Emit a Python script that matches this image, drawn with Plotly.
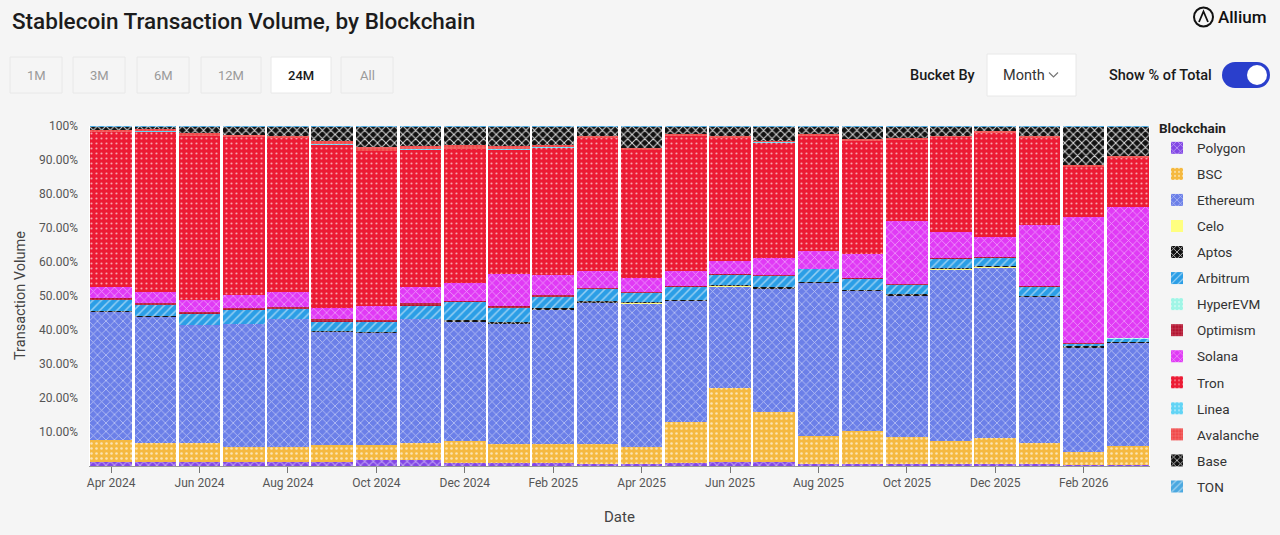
import plotly.graph_objects as go

months = ["Apr 2024", "May 2024", "Jun 2024", "Jul 2024", "Aug 2024", "Sep 2024",
          "Oct 2024", "Nov 2024", "Dec 2024", "Jan 2025", "Feb 2025", "Mar 2025",
          "Apr 2025", "May 2025", "Jun 2025", "Jul 2025", "Aug 2025", "Sep 2025",
          "Oct 2025", "Nov 2025", "Dec 2025", "Jan 2026", "Feb 2026", "Mar 2026"]

polygon   = [1.3, 1.3, 1.3, 1.3, 1.3, 1.3, 1.8, 1.8, 0.8, 0.8, 0.8, 0.5,
             0.5, 0.8, 1.1, 1.3, 0.5, 0.5, 0.5, 0.5, 0.5, 0.5, 0.3, 0.3]
bsc       = [6.3, 5.4, 5.4, 4.4, 4.4, 4.9, 4.4, 4.9, 6.6, 5.6, 5.6, 5.9,
             5.2, 12.1, 21.8, 14.5, 8.4, 9.8, 8.1, 6.9, 7.8, 6.2, 3.7, 5.7]
ethereum  = [37.8, 37.2, 34.8, 36.1, 37.5, 33.3, 33.1, 36.5, 35.2, 35.6, 39.7, 41.7,
             42.2, 35.6, 30.0, 36.5, 45.0, 41.2, 41.5, 50.5, 50.2, 43.1, 30.9, 30.2]
celo      = [0.02] * 24
aptos     = [0.03, 0.03, 0.03, 0.03, 0.03, 0.03, 0.03, 0.03, 0.3, 0.3, 0.3, 0.3,
             0.3, 0.3, 0.3, 0.3, 0.3, 0.3, 0.4, 0.3, 0.3, 0.3, 0.3, 0.3]
arbitrum  = [3.3, 3.4, 3.1, 4.2, 3.1, 2.8, 2.9, 3.8, 5.4, 4.4, 3.4, 3.9,
             2.9, 3.9, 3.0, 3.3, 3.7, 3.4, 2.9, 2.9, 2.5, 2.6, 0.9, 1.1]
hyperevm  = [0.0, 0.0, 0.0, 0.0, 0.0, 0.0, 0.0, 0.0, 0.0, 0.0, 0.0, 0.0,
             0.0, 0.0, 0.02, 0.02, 0.02, 0.02, 0.02, 0.02, 0.02, 0.02, 0.02, 0.02]
optimism  = [0.6, 0.6, 0.7, 0.5, 0.5, 0.7, 0.6, 0.8, 0.3, 0.3, 0.5, 0.1,
             0.1, 0.1, 0.1, 0.1, 0.1, 0.1, 0.1, 0.1, 0.1, 0.1, 0.1, 0.1]
solana    = [3.3, 3.3, 3.4, 3.7, 4.2, 3.5, 4.2, 4.7, 5.1, 9.4, 5.9, 5.0,
             4.0, 4.6, 4.0, 5.1, 5.2, 7.0, 18.6, 7.5, 6.0, 17.9, 37.1, 38.3]
tron      = [45.5, 47.0, 48.3, 46.6, 45.5, 48.0, 45.5, 40.5, 39.5, 36.7, 37.5, 39.2,
             37.7, 39.7, 36.3, 34.1, 33.9, 33.3, 23.8, 28.1, 30.5, 25.9, 14.7, 14.7]
linea     = [0.02] * 24
avalanche = [0.6, 0.8, 0.8, 0.5, 0.5, 0.8, 1.0, 1.0, 1.0, 1.0, 0.7, 0.5,
             0.5, 0.4, 0.5, 0.4, 0.4, 0.6, 0.5, 0.3, 0.4, 0.4, 0.3, 0.3]
base      = [0.9, 0.6, 1.8, 2.3, 2.6, 4.3, 6.1, 5.6, 5.5, 5.6, 5.3, 2.6,
             6.3, 2.2, 2.6, 4.1, 2.2, 3.5, 3.3, 2.6, 1.4, 2.7, 11.4, 8.7]
ton       = [0.2] * 24

y_tick_vals = [10, 20, 30, 40, 50, 60, 70, 80, 90, 100]
y_tick_text = ["10.00%", "20.00%", "30.00%", "40.00%", "50.00%",
               "60.00%", "70.00%", "80.00%", "90.00%", "100%"]

series = [
    ("Polygon", polygon, "#8247e5", "x", 6, 0.3, 0.5),
    ("BSC", bsc, "#f5b940", ".", 5, 0.2, 0.6),
    ("Ethereum", ethereum, "#6b7fe8", "x", 6, 0.25, 0.55),
    ("Celo", celo, "#ffff80", "", 6, 0.3, 0.5),
    ("Aptos", aptos, "#111111", "x", 6, 0.3, 0.85),
    ("Arbitrum", arbitrum, "#2b9ee6", "/", 6, 0.25, 0.5),
    ("HyperEVM", hyperevm, "#a0f5e6", ".", 5, 0.2, 0.5),
    ("Optimism", optimism, "#b3122e", "+", 4, 0.2, 0.4),
    ("Solana", solana, "#e03af5", "x", 6, 0.25, 0.5),
    ("Tron", tron, "#ec1b34", ".", 5, 0.15, 0.6),
    ("Linea", linea, "#62d4f5", ".", 5, 0.2, 0.5),
    ("Avalanche", avalanche, "#f04848", "+", 4, 0.2, 0.4),
    ("Base", base, "#111111", "x", 6, 0.3, 0.85),
    ("TON", ton, "#4aa8e0", "/", 6, 0.25, 0.5),
]

fig = go.Figure()
for name, vals, color, shape, size, sol, op in series:
    fig.add_trace(go.Bar(
        name=name, x=months, y=vals, legendgroup=name,
        marker=dict(color=color, line=dict(width=0),
                    pattern=dict(shape=shape, fillmode="overlay", fgcolor="white",
                                 fgopacity=op, size=size, solidity=sol)),
    ))

W, H = 1280, 535
PL, PR, PT, PB = 89, 1150, 126, 466


def px(x):
    return (x - PL) / (PR - PL)


def py(y):
    return (PB - y) / (PB - PT)


FONT = "Roboto"
shapes = []
annotations = []


def label(x, y, text, size, color, anchor="center", angle=0, weight="normal"):
    annotations.append(dict(x=px(x), y=py(y), xref="paper", yref="paper",
                            xanchor=anchor, yanchor="middle", showarrow=False,
                            text=text, textangle=angle,
                            font=dict(family=FONT, size=size, color=color, weight=weight)))


# Title
label(10, 21, "Stablecoin Transaction Volume, by Blockchain", 22.5, "#1c1c1c", "left",
      weight=500)

# Range buttons
buttons = [("1M", 10, 62), ("3M", 73, 125), ("6M", 137, 189), ("12M", 201, 261),
           ("24M", 271, 331), ("All", 341, 393)]
for text, x0, x1 in buttons:
    active = text == "24M"
    shapes.append(dict(type="rect", xref="paper", yref="paper",
                       x0=px(x0), x1=px(x1), y0=py(93), y1=py(57),
                       fillcolor="#ffffff" if active else "#f5f5f5",
                       line=dict(color="#e8e8e8", width=1), layer="above"))
    label((x0 + x1) / 2, 75, text, 13, "#1a1a1a" if active else "#9a9a9a",
          weight=500 if active else "normal")

# Bucket By + dropdown
label(978, 75, "Bucket By", 14.5, "#1a1a1a", "right", weight=500)
shapes.append(dict(type="rect", xref="paper", yref="paper", x0=px(987), x1=px(1076),
                   y0=py(96), y1=py(54), fillcolor="#ffffff",
                   line=dict(color="#e8e8e8", width=1), layer="above"))
label(1001, 75, "Month", 14.5, "#333333", "left")
shapes.append(dict(type="path", xref="paper", yref="paper",
                   path=f"M {px(1049)},{py(72.5)} L {px(1053.5)},{py(77)} L {px(1058)},{py(72.5)}",
                   line=dict(color="#777777", width=1.2), layer="above"))

# Show % of Total + toggle
label(1214, 75, "Show % of Total", 14.5, "#1a1a1a", "right", weight=500)
for cx0, cx1 in [(1222, 1248), (1244, 1270)]:
    shapes.append(dict(type="circle", xref="paper", yref="paper", x0=px(cx0), x1=px(cx1),
                       y0=py(88), y1=py(62), fillcolor="#2a3fcc", line=dict(width=0),
                       layer="above"))
shapes.append(dict(type="rect", xref="paper", yref="paper", x0=px(1235), x1=px(1257),
                   y0=py(88), y1=py(62), fillcolor="#2a3fcc", line=dict(width=0), layer="above"))
shapes.append(dict(type="circle", xref="paper", yref="paper", x0=px(1247), x1=px(1267),
                   y0=py(85), y1=py(65), fillcolor="#ffffff", line=dict(width=0), layer="above"))

# Allium logo
shapes.append(dict(type="circle", xref="paper", yref="paper", x0=px(1194), x1=px(1213),
                   y0=py(26.5), y1=py(7.5), fillcolor="rgba(0,0,0,0)",
                   line=dict(color="#111111", width=2), layer="above"))
shapes.append(dict(type="path", xref="paper", yref="paper",
                   path=f"M {px(1199)},{py(22)} L {px(1203.5)},{py(11.5)} L {px(1208)},{py(22)}",
                   line=dict(color="#111111", width=1.8), layer="above"))
label(1216, 17, "Allium", 17, "#111111", "left", weight=500)

# Axis titles
label(20, 296, "Transaction Volume", 14.5, "#444444", "center", -90)
label(619, 517, "Date", 15, "#444444")

fig.update_layout(
    width=W, height=H,
    margin=dict(l=PL, r=W - PR, t=PT, b=H - PB, autoexpand=False),
    paper_bgcolor="#f5f5f5", plot_bgcolor="#ffffff",
    barmode="stack", barnorm="percent", bargap=0.06,
    font=dict(family=FONT, color="#444444"),
    showlegend=True,
    legend=dict(x=px(1157), y=py(115), xanchor="left", yanchor="top",
                traceorder="grouped", tracegroupgap=5.5, bgcolor="rgba(0,0,0,0)",
                maxheight=420,
                title=dict(text="<b>Blockchain</b>", font=dict(family=FONT, size=13.5, color="#222222")),
                font=dict(family=FONT, size=13.5, color="#333333")),
    xaxis=dict(type="category", categoryorder="array", categoryarray=months,
               tickvals=months[::2], ticktext=months[::2], range=[-0.5, 23.5],
               ticks="outside", ticklen=6, tickcolor="#777777", showline=True,
               linecolor="#999999", linewidth=1, showgrid=False,
               tickfont=dict(family=FONT, size=12, color="#555555")),
    yaxis=dict(range=[0, 100], tickvals=y_tick_vals, ticktext=y_tick_text,
               showgrid=False, zeroline=False, ticks="", ticklabelstandoff=10,
               tickfont=dict(family=FONT, size=12, color="#555555")),
    shapes=shapes, annotations=annotations,
)

fig.write_html("out.html", config={"displayModeBar": False},
               post_script="document.body.style.margin='0';")
